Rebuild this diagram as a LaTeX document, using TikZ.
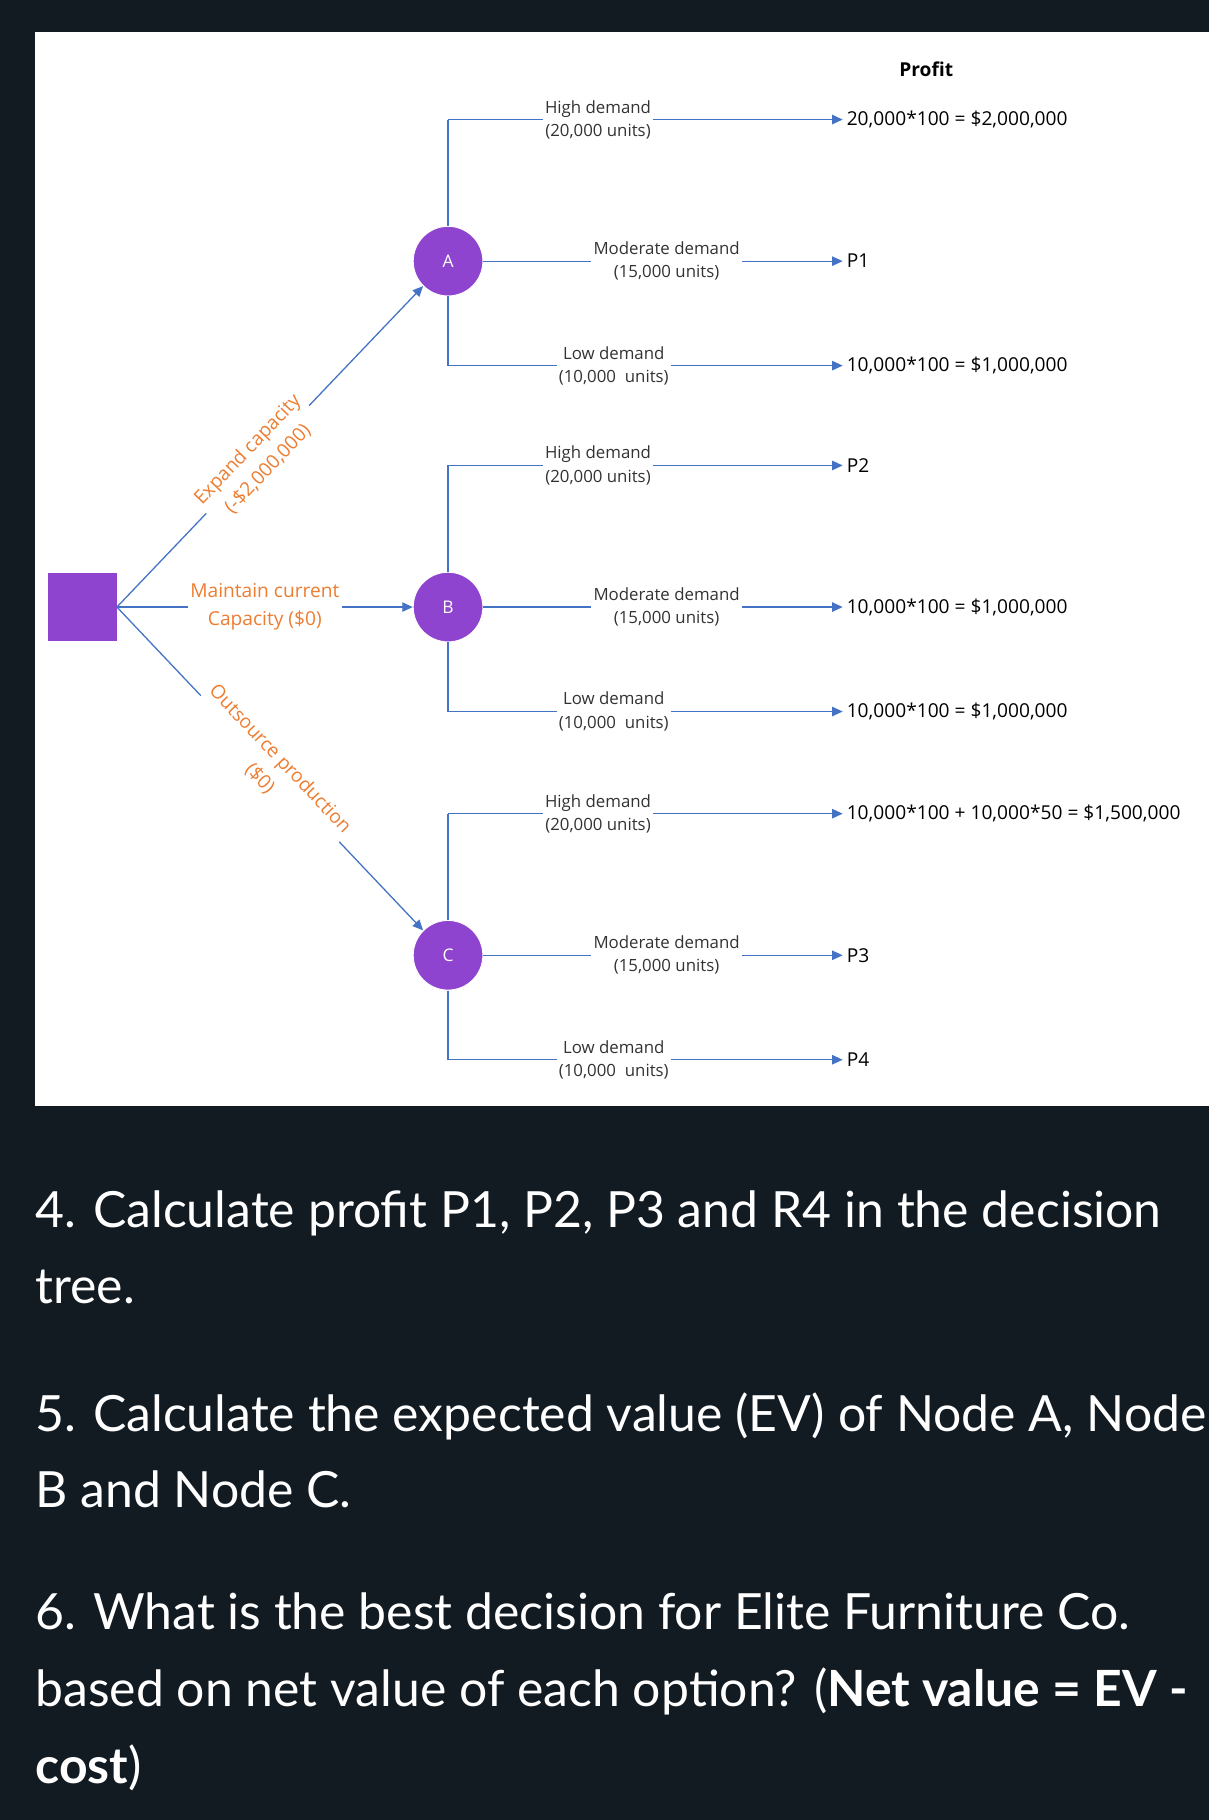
\documentclass[tikz,border=0pt]{standalone}
\usepackage{fontspec}
\setmainfont{Open Sans}
\newfontfamily\latofont{Lato}
\usetikzlibrary{arrows.meta}
\definecolor{bgdark}{HTML}{121B22}
\definecolor{lineblue}{HTML}{4472C4}
\definecolor{nodepurple}{HTML}{8E44CF}
\definecolor{optorange}{HTML}{ED7D31}
\definecolor{txtgray}{HTML}{333333}
\begin{document}
\begin{tikzpicture}[x=1pt,y=-1pt,
  branch/.style={draw=lineblue,line width=1.1pt},
  arr/.style={branch,-{Triangle[length=9pt,width=8pt]}},
  chance/.style={circle,fill=nodepurple,draw=white,line width=0.8pt,minimum size=60pt,
    text=white,font=\fontsize{15}{18}\selectfont},
  lab/.style={fill=white,inner sep=2pt,align=center,text=txtgray,
    font=\fontsize{14.5}{20}\selectfont},
  opt/.style={fill=white,inner sep=2pt,align=center,text=optorange,
    font=\fontsize{16.5}{24}\selectfont},
  outc/.style={anchor=west,text=black,font=\fontsize{16.5}{20}\selectfont},
  big/.style={anchor=north west,text=white,align=left,
    font=\latofont\fontsize{43}{66}\selectfont}]
\useasboundingbox (0,0) rectangle (1042,1568);
\fill[bgdark] (0,0) rectangle (1042,1568);
\fill[white] (30,28) rectangle (1042,953);

\node[outc,font=\bfseries\fontsize{16.5}{20}\selectfont,anchor=center] (profit) at (798,60) {Profit};

% decision node
\node[fill=nodepurple,minimum size=59pt,inner sep=0pt] (dec) at (71,523) {};
\node[chance] (A) at (386,225) {A};
\node[chance] (B) at (386,523) {B};
\node[chance] (C) at (386,823) {C};

\draw[arr] (dec.east) -- (A.south west) node[pos=0.46,opt,sloped] {Expand capacity\\(-\$2,000,000)};
\draw[arr] (dec.east) -- (B.west) node[pos=0.5,opt] {Maintain current\\Capacity (\$0)};
\draw[arr] (dec.east) -- (C.north west) node[pos=0.5,opt,sloped] {Outsource production\\(\$0)};

% chance branches
\foreach \n/\y/\pa/\pb/\pc in {A/225/{20,000*100 = \$2,000,000}/{P1}/{10,000*100 = \$1,000,000},
  B/523/{P2}/{10,000*100 = \$1,000,000}/{10,000*100 = \$1,000,000},
  C/823/{10,000*100 + 10,000*50 = \$1,500,000}/{P3}/{P4}}{
  \coordinate (\n t) at (386,\y-122);
  \coordinate (\n b) at (386,\y+90);
  \node[outc] (\n o1) at (726,\y-122) {\pa};
  \node[outc] (\n o2) at (726,\y) {\pb};
  \node[outc] (\n o3) at (726,\y+90) {\pc};
  \draw[branch] (\n) -- (\n t);
  \draw[branch] (\n) -- (\n b);
  \draw[arr] (\n t) -- (\n o1.west) node[lab,pos=0.38] {High demand\\(20,000 units)};
  \draw[arr] (\n.east) -- (\n o2.west) node[lab,pos=0.51] {Moderate demand\\(15,000 units)};
  \draw[arr] (\n b) -- (\n o3.west) node[lab,pos=0.42] {Low demand\\(10,000\ \ units)};
}

\node[big] (q4) at (27,1022) {4. Calculate profit P1, P2, P3 and R4 in the decision\\tree.};
\node[big] (q5) at (27,1196) {5. Calculate the expected value (EV) of Node A, Node\\B and Node C.};
\node[big] (q6) at (27,1369) {6. What is the best decision for Elite Furniture Co.\\based on net value of each option? (\textbf{Net value = EV -}\\\textbf{cost})};
\end{tikzpicture}
\end{document}
